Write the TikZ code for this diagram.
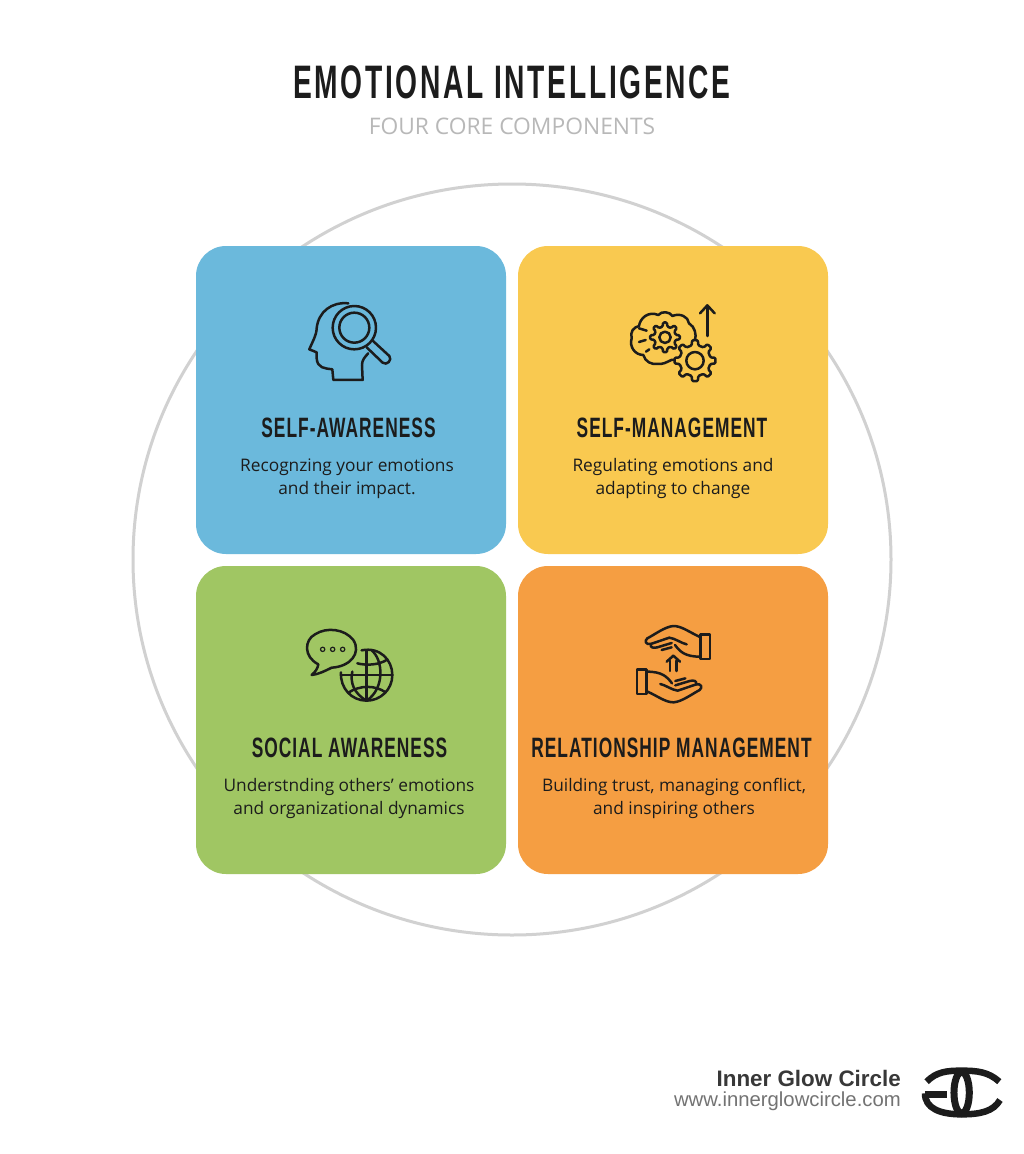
\documentclass[tikz,border=0pt]{standalone}
\usepackage{fontspec}
\usetikzlibrary{shapes.geometric}
\setmainfont{Open Sans}
\newfontfamily\titlefont[FakeStretch=0.6,LetterSpace=5.7]{Liberation Sans Bold}
\newfontfamily\headfont[FakeStretch=0.62,LetterSpace=3.6]{Liberation Sans Bold}
\newfontfamily\logofont{Liberation Sans}
\definecolor{BlueCard}{HTML}{6BB9DC}
\definecolor{YellowCard}{HTML}{F9C950}
\definecolor{GreenCard}{HTML}{A0C663}
\definecolor{OrangeCard}{HTML}{F59E42}
\definecolor{InkColor}{HTML}{1C1C1C}
\tikzset{
  card/.style={rounded corners=30pt, minimum width=310pt, minimum height=308pt, inner sep=0pt, outer sep=0pt},
  heading/.style={text=InkColor, inner sep=0pt, font=\headfont\fontsize{28}{30}\selectfont},
  blurb/.style={text=InkColor, inner sep=0pt, align=center, font=\fontsize{17.3}{23}\selectfont},
  icon/.style={draw=InkColor, line width=2.5pt, line cap=round, line join=round},
  zoomed/.style={x=0.3333pt, y=-0.3333pt},
}
% gear: centre x, centre y, outer radius, root radius, hole radius, fill
\newcommand{\gearicon}[6]{
  \draw [icon, fill=#6, rounded corners=1.2pt] ({#1+#4*cos(-22.5)},{#2+#4*sin(-22.5)})
    \foreach \a in {0,45,...,315} {
      -- ({#1+#4*cos(\a-12)},{#2+#4*sin(\a-12)})
      -- ({#1+#3*cos(\a-8)},{#2+#3*sin(\a-8)})
      -- ({#1+#3*cos(\a+8)},{#2+#3*sin(\a+8)})
      -- ({#1+#4*cos(\a+12)},{#2+#4*sin(\a+12)})
    } -- cycle;
  \draw [icon] (#1,#2) circle [radius=#5];
}
% open hand with cuff, drawn in the coordinates of the upper hand
\newcommand{\handicon}{
  \draw [icon] (242,58) rectangle (270,132);
  \draw [icon] (240,66) .. controls (205,50) and (185,33) .. (160,33)
    .. controls (135,35) and (105,58) .. (82,70)
    .. controls (72,78) and (78,90) .. (92,87) -- (148,68)
    .. controls (165,70) and (185,85) .. (200,88);
  \draw [icon] (92,87) .. controls (90,98) and (100,100) .. (112,97) -- (155,84);
  \draw [icon] (125,105) -- (155,97);
  \draw [icon] (165,90) .. controls (180,110) and (195,125) .. (240,125);
}
\begin{document}
\begin{tikzpicture}[x=1pt, y=-1pt]
    \useasboundingbox [fill=white] (0,0) rectangle (1024,1154);

    \node [text=InkColor, inner sep=0pt, font=\titlefont\fontsize{47}{50}\selectfont] (Title) at (512,82) {EMOTIONAL INTELLIGENCE};
    \node [text=black!28, inner sep=0pt, font=\fontsize{22.8}{26}\selectfont] (Subtitle) at (512,126) {FOUR CORE COMPONENTS};

    \node [draw=black!18, line width=3pt, ellipse, minimum width=758pt, minimum height=751pt, inner sep=0pt] (Ring) at (512,559.5) {};

    \node [card, fill=BlueCard] (Aware) at (351,400) {};
    \node [card, fill=YellowCard] (Manage) at (673,400) {};
    \node [card, fill=GreenCard] (Social) at (351,720) {};
    \node [card, fill=OrangeCard] (Relation) at (673,720) {};

    \node [heading] (AwareHead) at (348.5,428) {SELF-AWARENESS};
    \node [heading] (ManageHead) at (672,428) {SELF-MANAGEMENT};
    \node [heading] (SocialHead) at (349.5,748) {SOCIAL AWARENESS};
    \node [heading] (RelationHead) at (671.5,748) {RELATIONSHIP MANAGEMENT};

    \node [blurb] (AwareText) at (347,478.5) {Recognzing your emotions\\and their impact.};
    \node [blurb] (ManageText) at (673,478.5) {Regulating emotions and\\adapting to change};
    \node [blurb] (SocialText) at (349,798.5) {Understnding others' emotions\\and organizational dynamics};
    \node [blurb] (RelationText) at (674,798.5) {Building trust, managing conflict,\\and inspiring others};

    % head and magnifier
    \begin{scope}[shift={(290,290)}, zoomed]
        \draw [icon] (175,40) .. controls (125,35) and (85,65) .. (80,115)
            .. controls (80,135) and (65,160) .. (58,178) -- (80,187) -- (80,205)
            .. controls (82,235) and (105,235) .. (127,238) -- (130,270) -- (218,270) -- (216,225)
            .. controls (216,210) and (225,200) .. (235,190);
        \draw [icon] (193,113) circle [radius=65];
        \draw [icon] (193,113) circle [radius=45];
        \draw [icon] (248,152) -- (298,198) .. controls (308,210) and (290,228) .. (278,218) -- (230,172);
    \end{scope}

    % brain and gears
    \begin{scope}[shift={(615,290)}, zoomed]
        \draw [icon] (178,210) .. controls (165,205) and (160,222) .. (130,222)
            .. controls (110,225) and (90,215) .. (85,195)
            .. controls (60,195) and (42,170) .. (50,145)
            .. controls (45,125) and (55,112) .. (72,108)
            .. controls (75,85) and (100,62) .. (130,75)
            .. controls (140,62) and (165,65) .. (172,78)
            .. controls (195,68) and (220,80) .. (222,100)
            .. controls (240,110) and (245,135) .. (240,150);
        \draw [icon] (72,115) -- (95,122);
        \draw [icon] (72,156) -- (92,150);
        \draw [icon] (93,185) -- (103,178);
        \gearicon{150}{142}{45}{33}{17}{YellowCard}
        \gearicon{240}{212}{62}{47}{26}{YellowCard}
        \draw [icon] (277,138) -- (277,48);
        \draw [icon] (255,70) -- (277,46) -- (299,70);
    \end{scope}

    % speech bubble and globe
    \begin{scope}[shift={(295,615)}, zoomed]
        \draw [icon] (70,148) .. controls (25,125) and (28,75) .. (60,58)
            .. controls (95,35) and (150,42) .. (175,75)
            .. controls (200,115) and (165,155) .. (110,158)
            .. controls (90,168) and (70,178) .. (50,180) .. controls (62,170) and (68,160) .. (70,148);
        \foreach \dotx in {83,113,143}
            \draw [icon, line width=1.2pt] (\dotx,103) circle [radius=6.5];
        \draw [icon] (200,106) .. controls (255,95) and (292,135) .. (292,180)
            .. controls (292,225) and (255,257) .. (215,257)
            .. controls (170,257) and (135,220) .. (138,172);
        \draw [icon] (215,106) -- (215,257);
        \draw [icon] (138,180) -- (292,180);
        \draw [icon] (230,106) .. controls (265,135) and (270,220) .. (215,257);
        \draw [icon] (215,257) .. controls (175,235) and (165,200) .. (172,170);
        \draw [icon] (187,145) .. controls (215,152) and (250,150) .. (275,135);
        \draw [icon] (160,233) .. controls (195,210) and (240,210) .. (272,232);
    \end{scope}

    % two hands and arrow
    \begin{scope}[shift={(620,615)}, zoomed]
        \handicon
        \begin{scope}[rotate around={180:(160.5,147.5)}]
            \handicon
        \end{scope}
        \draw [icon] (150,168) -- (150,137);
        \draw [icon] (170,168) -- (170,137);
        \draw [icon] (140,140) -- (160,122) -- (180,140);
    \end{scope}

    \node [anchor=east, inner sep=0pt, text=black!78, font=\logofont\bfseries\fontsize{22.4}{26}\selectfont] (BrandName) at (901,1078) {Inner Glow Circle};
    \node [anchor=east, inner sep=0pt, text=black!55, font=\logofont\fontsize{20.3}{23}\selectfont] (BrandUrl) at (901,1101) {www.innerglowcircle.com};

    % logo
    \begin{scope}[shift={(660,1050)}, zoomed]
        \draw [line width=6.5pt, InkColor] (800,95) .. controls (830,65) and (860,62) .. (905,62)
            .. controls (950,62) and (985,65) .. (1018,95);
        \draw [line width=6.5pt, InkColor] (795,133) -- (860,133);
        \draw [line width=6.5pt, InkColor] (795,130) .. controls (795,175) and (840,193) .. (905,193)
            .. controls (960,193) and (1000,185) .. (1020,150);
        \draw [line width=7pt, InkColor] (905,128) ellipse [x radius=23, y radius=62];
    \end{scope}
\end{tikzpicture}
\end{document}
